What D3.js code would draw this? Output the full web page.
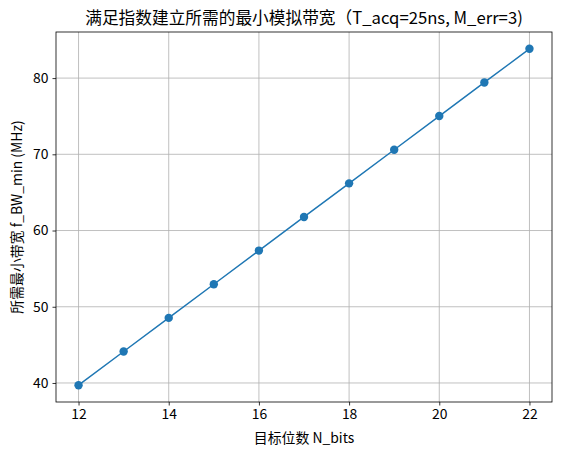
<!DOCTYPE html>
<html>
<head>
<meta charset="utf-8">
<script src="https://cdn.jsdelivr.net/npm/d3@7"></script>
<style>
  body { margin: 0; background: #fff; }
  text { font-family: "Noto Sans CJK SC", "DejaVu Sans", sans-serif; fill: #000; }
</style>
</head>
<body>
<div id="chart"></div>
<script>
// data
const nBits = [12, 13, 14, 15, 16, 17, 18, 19, 20, 21, 22];
const bwMin = [39.71, 44.13, 48.54, 52.95, 57.37, 61.78, 66.19, 70.60, 75.02, 79.43, 83.84];
const xTicks = [12, 14, 16, 18, 20, 22];
const yTicks = [40, 50, 60, 70, 80];

const titleText = "满足指数建立所需的最小模拟带宽（T_acq=25ns, M_err=3)";
const xLabel = "目标位数 N_bits";
const yLabel = "所需最小带宽 f_BW_min (MHz)";

const width = 561, height = 455;
const margin = {top: 32, right: 9, bottom: 53, left: 56};
const blue = "#1f77b4";

const svg = d3.select("#chart").append("svg")
    .attr("width", width)
    .attr("height", height);

// matplotlib style 5% padding on both axes
const xPad = (d3.max(nBits) - d3.min(nBits)) * 0.05;
const yPad = (d3.max(bwMin) - d3.min(bwMin)) * 0.05;

const x = d3.scaleLinear()
    .domain([d3.min(nBits) - xPad, d3.max(nBits) + xPad])
    .range([margin.left, width - margin.right]);

const y = d3.scaleLinear()
    .domain([d3.min(bwMin) - yPad, d3.max(bwMin) + yPad])
    .range([height - margin.bottom, margin.top]);

// grid
svg.append("g")
    .selectAll("line")
    .data(xTicks)
    .join("line")
    .attr("x1", d => x(d)).attr("x2", d => x(d))
    .attr("y1", margin.top).attr("y2", height - margin.bottom)
    .attr("stroke", "#b0b0b0")
    .attr("stroke-width", 0.8);

svg.append("g")
    .selectAll("line")
    .data(yTicks)
    .join("line")
    .attr("x1", margin.left).attr("x2", width - margin.right)
    .attr("y1", d => y(d)).attr("y2", d => y(d))
    .attr("stroke", "#b0b0b0")
    .attr("stroke-width", 0.8);

// axes
const xAxis = svg.append("g")
    .attr("transform", `translate(0,${height - margin.bottom})`)
    .call(d3.axisBottom(x).tickValues(xTicks).tickSize(3.5).tickPadding(4));

const yAxis = svg.append("g")
    .attr("transform", `translate(${margin.left},0)`)
    .call(d3.axisLeft(y).tickValues(yTicks).tickSize(3.5).tickPadding(4));

[xAxis, yAxis].forEach(g => {
    g.select(".domain").remove();
    g.selectAll("line").attr("stroke", "#000").attr("stroke-width", 0.8);
    g.selectAll("text").style("font-size", "13.9px")
        .style("font-family", "'Noto Sans CJK SC', sans-serif");
});

// frame
svg.append("rect")
    .attr("x", margin.left)
    .attr("y", margin.top)
    .attr("width", width - margin.left - margin.right)
    .attr("height", height - margin.top - margin.bottom)
    .attr("fill", "none")
    .attr("stroke", "#000")
    .attr("stroke-width", 0.8);

// line + markers
const pts = nBits.map((n, i) => [n, bwMin[i]]);

svg.append("path")
    .datum(pts)
    .attr("fill", "none")
    .attr("stroke", blue)
    .attr("stroke-width", 1.5)
    .attr("d", d3.line().x(d => x(d[0])).y(d => y(d[1])));

svg.append("g")
    .selectAll("circle")
    .data(pts)
    .join("circle")
    .attr("cx", d => x(d[0]))
    .attr("cy", d => y(d[1]))
    .attr("r", 4.2)
    .attr("fill", blue);

// labels
const cx = (margin.left + width - margin.right) / 2;
const cy = (margin.top + height - margin.bottom) / 2;

svg.append("text")
    .attr("x", cx)
    .attr("y", 24)
    .attr("text-anchor", "middle")
    .style("font-size", "16.7px")
    .text(titleText);

svg.append("text")
    .attr("x", cx)
    .attr("y", 443)
    .attr("text-anchor", "middle")
    .style("font-size", "13.9px")
    .text(xLabel);

svg.append("text")
    .attr("transform", `translate(22,${cy}) rotate(-90)`)
    .attr("text-anchor", "middle")
    .style("font-size", "13.9px")
    .text(yLabel);
</script>
</body>
</html>
